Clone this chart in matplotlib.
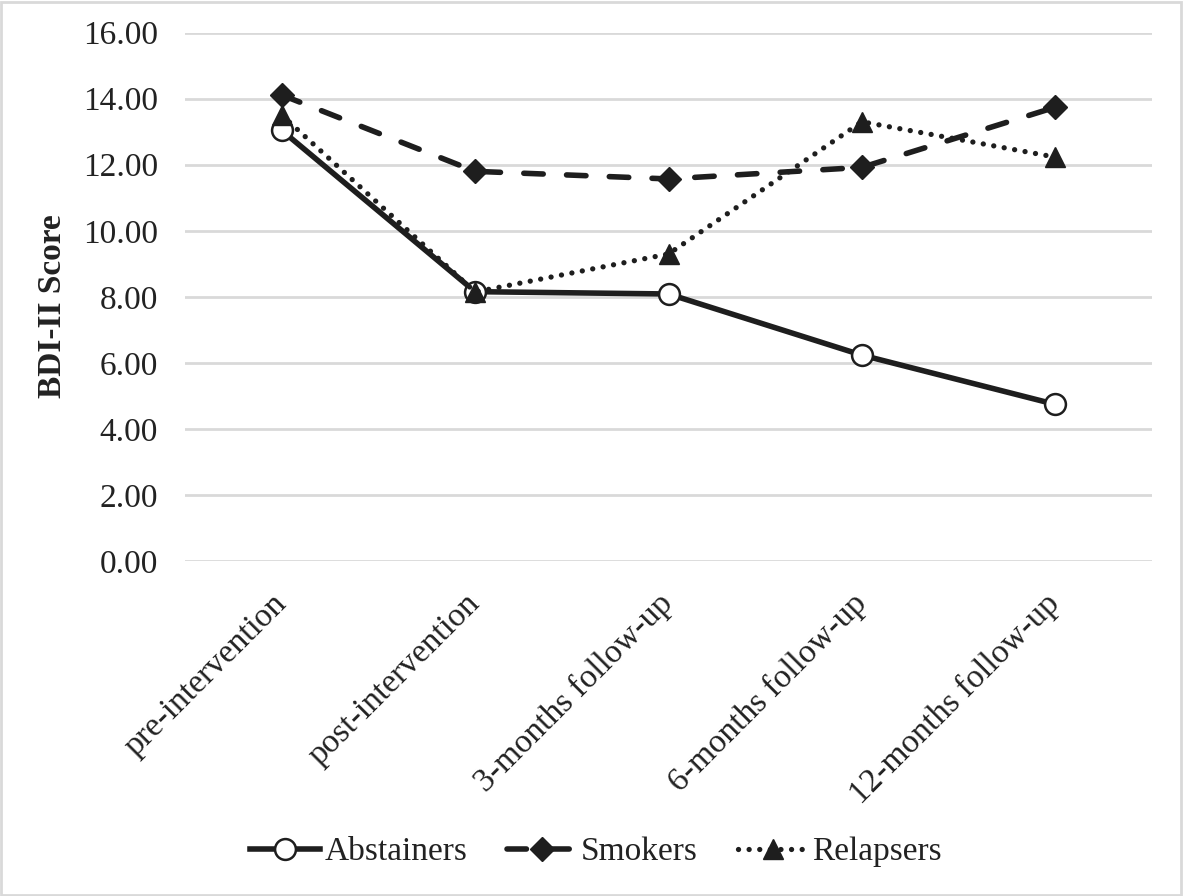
import matplotlib
matplotlib.use("Agg")
import matplotlib.pyplot as plt
from matplotlib.patches import Rectangle

categories = ["pre-intervention", "post-intervention", "3-months follow-up",
              "6-months follow-up", "12-months follow-up"]
abstainers = [13.04, 8.16, 8.09, 6.24, 4.75]
smokers = [14.11, 11.80, 11.57, 11.92, 13.74]
relapsers = [13.50, 8.15, 9.30, 13.30, 12.23]
yticks = [0, 2, 4, 6, 8, 10, 12, 14, 16]

plt.rcParams['font.family'] = ['Liberation Serif', 'DejaVu Serif']

W, H = 1183, 896
fig = plt.figure(figsize=(W / 100, H / 100), dpi=100)
ax = fig.add_axes([185 / W, 1 - 561.4 / H, (1152 - 185) / W, (561.4 - 32.5) / H])

x = list(range(len(categories)))
col = '#1e1e1e'
tcol = '#222222'

ax.plot(x, abstainers, color=col, lw=4.0, linestyle='-', marker='o',
        markersize=15, markerfacecolor='white', markeredgecolor=col,
        markeredgewidth=1.8, label='Abstainers', clip_on=False, zorder=3)
ax.plot(x, smokers, color=col, lw=4.0, linestyle=(0, (3.5, 4.2)),
        dash_capstyle='round', marker='D', markersize=12.5,
        markerfacecolor=col, markeredgecolor=col,
        label='Smokers', clip_on=False, zorder=3)
ax.plot(x, relapsers, color=col, lw=3.8, linestyle=(0, (0.01, 2.0)),
        dash_capstyle='round', marker='^', markersize=15,
        markerfacecolor=col, markeredgecolor=col,
        label='Relapsers', clip_on=False, zorder=3)

ax.set_xlim(-0.5, len(categories) - 0.5)
ax.set_ylim(0, 16)
ax.set_yticks(yticks)
ax.set_yticklabels([f"{v:.2f}" for v in yticks], fontsize=24, color=tcol)
ax.set_xticks(x)
ax.set_xticklabels(categories, rotation=45, ha='right', va='center',
                   rotation_mode='anchor', fontsize=24, color=tcol)
ax.tick_params(axis='both', length=0)
ax.tick_params(axis='y', pad=19.5)
ax.tick_params(axis='x', pad=27)
for s in ax.spines.values():
    s.set_visible(False)
ax.grid(axis='y', color='#d9d9d9', lw=2)
ax.set_axisbelow(True)

ax.set_ylabel("BDI-II Score", fontsize=24, fontweight='bold', color=tcol)
ax.yaxis.set_label_coords(-0.121, 0.483)

leg = fig.legend(loc='center', bbox_to_anchor=(596 / W, 1 - 852 / H), ncol=3,
                 frameon=False, fontsize=24, handlelength=2.1, columnspacing=1.2,
                 handletextpad=0.12)
for t in leg.get_texts():
    t.set_color(tcol)

fig.patches.append(Rectangle((1 / W, 1 / H), 1 - 3 / W, 1 - 3 / H,
                             transform=fig.transFigure, fill=False,
                             edgecolor='#d9d9d9', lw=2))

fig.savefig("out.png", dpi=100, facecolor='white')
